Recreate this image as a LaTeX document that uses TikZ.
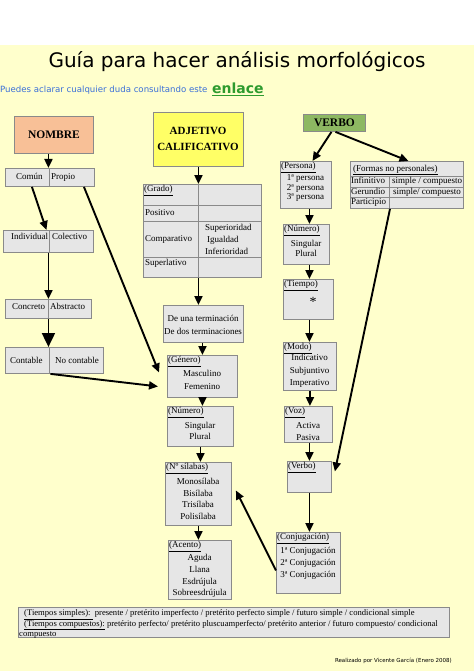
\documentclass[tikz,border=0pt]{standalone}
\usepackage{fontspec}
\setmainfont{Liberation Serif}
\newfontfamily\comic{DejaVu Sans}
\usetikzlibrary{arrows.meta}
\definecolor{bg}{HTML}{FFFFCC}
\definecolor{cellg}{HTML}{E6E6E6}
\definecolor{bord}{HTML}{8A8A8A}
\definecolor{salmon}{HTML}{F8C097}
\definecolor{adjy}{HTML}{FFFF66}
\definecolor{verbg}{HTML}{8DB862}
\definecolor{subblue}{HTML}{3A6FD8}
\definecolor{linkgreen}{HTML}{2E9B2E}
\begin{document}
\begin{tikzpicture}[x=1pt,y=-1pt,
 cell/.style={draw=bord, fill=cellg, line width=0.9pt, inner sep=0pt, anchor=north west},
 sep/.style={draw=bord, line width=0.9pt},
 arr/.style={line width=1.9pt, -{Triangle[width=8pt,length=9pt]}},
 bigarr/.style={line width=1.9pt, -{Triangle[width=13pt,length=14pt]}},
 lbl/.style={anchor=north west, inner sep=0pt, text height=6.2pt, text depth=2pt, font=\fontsize{9}{10}\selectfont},
 ctext/.style={anchor=center, inner sep=0pt, align=center},
 ltext/.style={anchor=west, inner sep=0pt, text height=6.2pt, text depth=2pt, font=\fontsize{9}{10}\selectfont},
 head/.style={inner sep=0pt, align=center, font=\bfseries\fontsize{11.5}{16}\selectfont},
]
\fill[white] (0,0) rectangle (474,671);
\fill[bg] (0,45) rectangle (474,671);
\useasboundingbox (0,0) rectangle (474,671);

% title
\node[inner sep=0pt, font=\comic\fontsize{20}{22}\selectfont] (title) at (237,62) {Guía para hacer análisis morfológicos};
\node[anchor=west, inner sep=0pt, font=\comic\fontsize{8.6}{9}\selectfont, text=subblue] (sub) at (0,90) {Puedes aclarar cualquier duda consultando este};
\node[anchor=west, inner sep=0pt, font=\comic\bfseries\fontsize{14}{16}\selectfont, text=linkgreen] (link) at (212,89) {\underline{enlace}};

% ===== NOMBRE =====
\node[cell, fill=salmon, minimum width=79pt, minimum height=37pt] (nombre) at (14,116) {};
\node[head] (nombret) at (nombre.center) {NOMBRE};

\node[cell, minimum width=89pt, minimum height=18pt] (cp) at (5,168) {};
\draw[sep] (49,168) -- (49,186);
\node[ltext] (comun) at (16,177) {Común};
\node[ltext] (propio) at (51,177) {Propio};

\node[cell, minimum width=90pt, minimum height=22pt] (ind) at (3,230) {};
\draw[sep] (49,230) -- (49,252);
\node[ltext] (indiv) at (11,237) {Individual};
\node[ltext] (colec) at (52,237) {Colectivo};

\node[cell, minimum width=86pt, minimum height=19pt] (conc) at (5,299) {};
\draw[sep] (48,299) -- (48,318);
\node[ltext] (concr) at (12,307) {Concreto};
\node[ltext] (abstr) at (50,307) {Abstracto};

\node[cell, minimum width=98pt, minimum height=26pt] (cont) at (5,347) {};
\draw[sep] (49,347) -- (49,373);
\node[ltext] (contab) at (10,361) {Contable};
\node[ltext] (nocont) at (55,361) {No contable};

% ===== ADJETIVO =====
\node[cell, fill=adjy, minimum width=90pt, minimum height=54pt] (adj) at (153,112) {};
\node[head, font=\bfseries\fontsize{11}{16}\selectfont] (adjt) at (198,139) {ADJETIVO\\CALIFICATIVO};

\node[cell, minimum width=118pt, minimum height=93pt] (grado) at (143,184) {};
\draw[sep] (198,184) -- (198,277);
\draw[sep] (143,205) -- (261,205);
\draw[sep] (143,221) -- (261,221);
\draw[sep] (143,257) -- (261,257);
\node[lbl] (gradol) at (144,185.5) {\underline{(Grado)}};
\node[ltext] (posit) at (145,213.5) {Positivo};
\node[ltext] (compar) at (145,239.5) {Comparativo};
\node[ltext] (superl) at (145,263) {Superlativo};
\node[ctext, align=left, anchor=west, font=\fontsize{9}{12}\selectfont] (grados) at (205,239) {Superioridad\\\hspace{2pt}Igualdad\\Inferioridad};

\node[cell, minimum width=80pt, minimum height=37pt] (una) at (163,305) {};
\node[ctext, font=\fontsize{9}{13.5}\selectfont] (unat) at (203,325) {De una terminación\\De dos terminaciones};

\node[cell, minimum width=70pt, minimum height=42pt] (gen) at (167,355) {};
\node[lbl] (genl) at (168,356.5) {\underline{(Género)}};
\node[ctext, font=\fontsize{9}{12.5}\selectfont] (gent) at (202,380) {Masculino\\Femenino};

\node[cell, minimum width=66pt, minimum height=40pt] (numa) at (167,406) {};
\node[lbl] (numal) at (168,407.5) {\underline{(Número)}};
\node[ctext, font=\fontsize{9}{11.5}\selectfont] (numat) at (200,431) {Singular\\Plural};

\node[cell, minimum width=66pt, minimum height=63pt] (sil) at (165,462) {};
\node[lbl] (sill) at (166,463.5) {\underline{(Nº sílabas)}};
\node[ctext, font=\fontsize{9}{11.7}\selectfont] (silt) at (198,499) {Monosílaba\\Bisílaba\\Trisílaba\\Polisílaba};

\node[cell, minimum width=63pt, minimum height=59pt] (acen) at (168,540) {};
\node[lbl] (acenl) at (169,541.5) {\underline{(Acento)}};
\node[ctext, font=\fontsize{9}{11.7}\selectfont] (acent) at (199.5,576) {Aguda\\Llana\\Esdrújula\\Sobreesdrújula};

% ===== VERBO =====
\node[cell, fill=verbg, minimum width=62pt, minimum height=17pt] (verbo) at (303,114) {};
\node[head] (verbot) at (verbo.center) {VERBO};

\node[cell, minimum width=51pt, minimum height=47pt] (pers) at (280,161) {};
\node[lbl] (persl) at (281,162.5) {\underline{(Persona)}};
\node[ctext, font=\fontsize{9}{9.5}\selectfont] (perst) at (305.5,188) {1ª persona\\2ª persona\\3ª persona};

\node[cell, minimum width=113pt, minimum height=47pt] (formas) at (350,161) {};
\draw[sep] (350,176) -- (463,176);
\draw[sep] (350,187) -- (463,187);
\draw[sep] (350,197) -- (463,197);
\draw[sep] (389,176) -- (389,208);
\node[ltext] (formasl) at (353,169) {\underline{(Formas no personales)}};
\node[ltext] (infin) at (351,181.5) {Infinitivo};
\node[ltext] (infin2) at (392,181.5) {simple / compuesto};
\node[ltext] (gerun) at (351,192) {Gerundio};
\node[ltext] (gerun2) at (393,192) {simple/ compuesto};
\node[ltext] (partic) at (351,202.5) {Participio};

\node[cell, minimum width=46pt, minimum height=40pt] (numv) at (283,224) {};
\node[lbl] (numvl) at (284,225.5) {\underline{(Número)}};
\node[ctext, font=\fontsize{9}{10.5}\selectfont] (numvt) at (306,248.5) {Singular\\Plural};

\node[cell, minimum width=50pt, minimum height=40pt] (tiempo) at (283,279) {};
\node[lbl] (tiempol) at (284,280.5) {\underline{(Tiempo)}};
\node[ctext, font=\fontsize{14}{14}\selectfont] (tiempot) at (313,302) {*};

\node[cell, minimum width=53pt, minimum height=48pt] (modo) at (283,342) {};
\node[lbl] (modol) at (284,343.5) {\underline{(Modo)}};
\node[ctext, font=\fontsize{9}{12.5}\selectfont] (modot) at (309.5,371.3) {Indicativo\\Subjuntivo\\Imperativo};

\node[cell, minimum width=48pt, minimum height=36pt] (voz) at (284,406) {};
\node[lbl] (vozl) at (285,407.5) {\underline{(Voz)}};
\node[ctext, font=\fontsize{9}{12}\selectfont] (vozt) at (308,431.5) {Activa\\Pasiva};

\node[cell, minimum width=44pt, minimum height=31pt] (vb) at (287,461) {};
\node[lbl] (vbl) at (288,462.5) {\underline{(Verbo)}};

\node[cell, minimum width=64pt, minimum height=61pt] (conj) at (276,532) {};
\node[lbl] (conjl) at (277,533.5) {\underline{(Conjugación)}};
\node[ctext, font=\fontsize{9}{12}\selectfont] (conjt) at (308,563.5) {1ª Conjugación\\2ª Conjugación\\3ª Conjugación};

% ===== Tiempos =====
\node[cell, minimum width=431pt, minimum height=30pt] (tiem) at (18,607) {};
\node[anchor=north west, inner sep=0pt, align=left, font=\fontsize{8.6}{10.5}\selectfont] (tiemt) at (19,609.5)
 {\hspace{5pt}\underline{(Tiempos simples):\ } presente / pretérito imperfecto / pretérito perfecto simple / futuro simple / condicional simple\\
  \hspace{5pt}\underline{(Tiempos compuestos):} pretérito perfecto/ pretérito pluscuamperfecto/ pretérito anterior / futuro compuesto/ condicional\\
  compuesto};

\node[anchor=east, inner sep=0pt, font=\comic\fontsize{5.5}{6}\selectfont] (foot) at (452,661) {Realizado por Vicente García (Enero 2008)};

% ===== arrows =====
\coordinate (a1) at ([xshift=-5.5pt]nombre.south);
\draw[arr] (a1) -- (a1 |- cp.north);
\draw[arr] ([xshift=-18pt]cp.south) -- ([xshift=-2pt]ind.north);
\draw[arr] ([xshift=34pt]cp.south) -- ([xshift=-8pt,yshift=4pt]gen.west);
\draw[arr] (ind.south) -- (ind.south |- conc.north);
\draw[bigarr] (conc.south) -- (conc.south |- cont.north);
\draw[arr] ([xshift=-4pt]cont.south) -- ([xshift=-9pt,yshift=-10pt]gen.west);

\draw[arr] (adj.south) -- (adj.south |- grado.north);
\coordinate (a8) at ([xshift=-4pt]grado.south);
\draw[arr] (a8) -- (a8 |- una.north);
\draw[arr] (gen.north |- una.south) -- (gen.north);
\draw[arr] (gen.south) -- (gen.south |- numa.north);
\draw[arr] (numa.south) -- (numa.south |- sil.north);
\draw[arr] (sil.south) -- (sil.south |- acen.north);
\draw[arr] ([yshift=-7.5pt]conj.west) -- ([xshift=4pt,yshift=3.5pt]sil.east);

\draw[arr] ([xshift=-3pt]verbo.south) -- ([xshift=6.5pt]pers.north);
\draw[arr] ([xshift=1pt]verbo.south) -- ([xshift=1.5pt]formas.north);
\coordinate (v1) at ([xshift=3.5pt]pers.south);
\draw[arr] (v1) -- (v1 |- numv.north);
\coordinate (v2) at ([xshift=3pt]numv.south);
\draw[arr] (v2) -- (v2 |- tiempo.north);
\draw[arr] ([xshift=1pt]tiempo.south) -- ([xshift=1pt]tiempo.south |- modo.north);
\draw[arr] (modo.south) -- (modo.south |- voz.north);
\draw[arr] ([xshift=1pt]voz.south) -- ([xshift=1pt]voz.south |- vb.north);
\draw[arr] (vb.south) -- (vb.south |- conj.north);
\draw[arr] ([xshift=40pt]formas.south west) -- ([xshift=3pt,yshift=5.5pt]vb.east);
\end{tikzpicture}
\end{document}
